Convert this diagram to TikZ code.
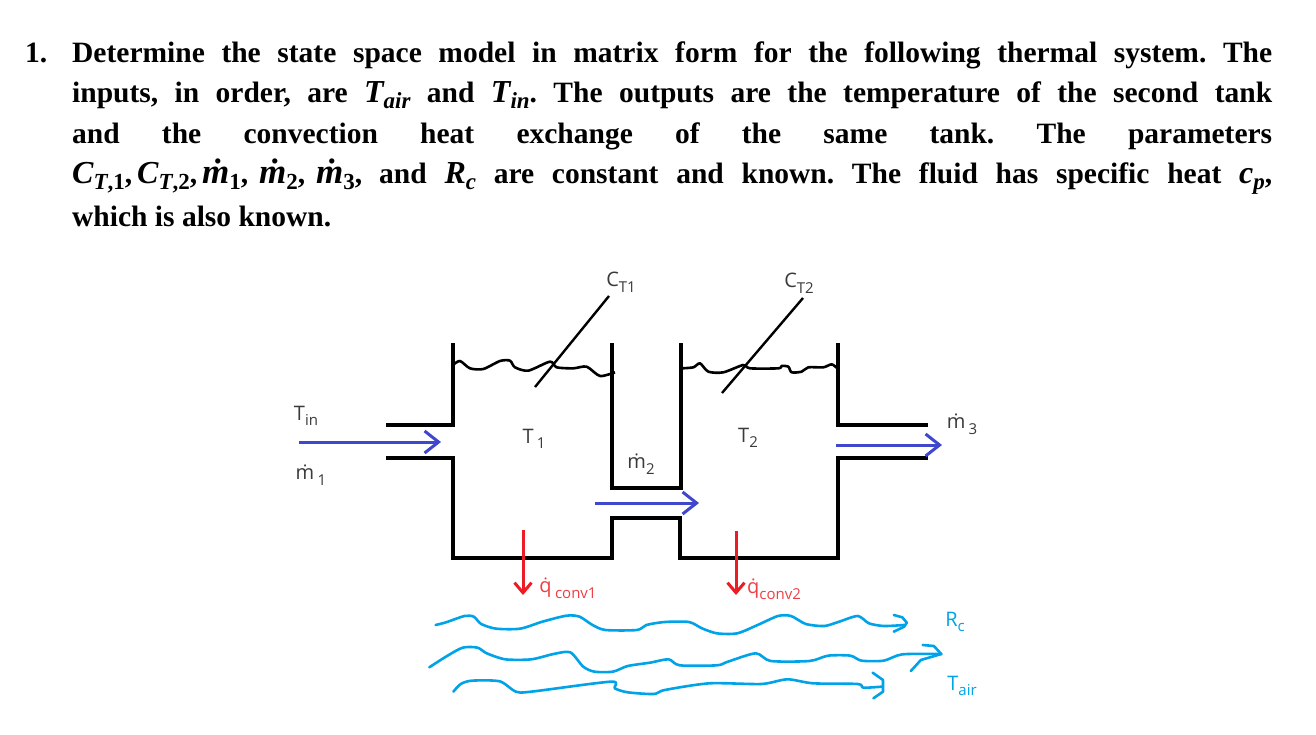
\documentclass[tikz,border=0pt]{standalone}
\usepackage{fontspec}
\setmainfont{Liberation Serif}
\newfontfamily\lab{Open Sans}
\usetikzlibrary{arrows.meta}
\definecolor{flowblue}{HTML}{3F48CC}
\definecolor{heatred}{HTML}{ED1C24}
\definecolor{aircyan}{HTML}{00A2E8}
\definecolor{labgray}{HTML}{3A3A3A}
\newcommand{\subt}[1]{\raisebox{-0.22em}{\fontsize{23}{23}\selectfont #1}}
\newcommand{\ivar}[1]{{\bfseries\itshape #1}}
\newcommand{\mvar}[1]{{\fontsize{32}{32}\selectfont\bfseries\itshape #1}}
\newcommand{\mdt}[1]{{\fontsize{35}{35}\selectfont\bfseries\itshape \.m}\subt{\bfseries\upshape #1}}
\newcommand{\dropsub}[1]{\raisebox{-0.28em}{\fontsize{15}{15}\selectfont #1}}
\newcommand{\dotted}[1]{\ooalign{#1\cr\hfil ˙\hfil\cr}}
\tikzset{
  textline/.style={anchor=base west,inner sep=0pt,font=\fontsize{29.5}{30}\selectfont\bfseries},
  lbl/.style={inner sep=0pt,font=\fontsize{20}{20}\selectfont\lab,text=labgray},
  wall/.style={line width=4pt,line cap=butt,line join=miter,black},
  thin wire/.style={line width=2.4pt,black,line cap=butt},
  water/.style={line width=2.6pt,black,line join=round,smooth,tension=.45},
  flow/.style={line width=3pt,flowblue,-{Straight Barb[length=14pt,width=22pt,line width=3pt]}},
  heat/.style={line width=3pt,heatred,-{Straight Barb[length=10pt,width=17pt,line width=3pt]}},
  air/.style={line width=2.6pt,aircyan,line join=round,line cap=round,smooth,tension=.45},
  airhead/.style={line width=2.6pt,aircyan,line join=round,line cap=round}
}
\begin{document}
\frenchspacing
\begin{tikzpicture}[x=1pt,y=-1pt]
\useasboundingbox (0,0) rectangle (1316,734);
\fill[white] (0,0) rectangle (1316,734);
% text
\node[textline] (num) at (25,62) {1.};
\node[textline] (l1) at (72,62) {\makebox[1200pt][s]{Determine the state space model in matrix form for the following thermal system. The}};
\node[textline] (l2) at (72,102) {\makebox[1200pt][s]{inputs, in order, are \mvar{T}\subt{\ivar{air}} and \mvar{T}\subt{\ivar{in}}. The outputs are the temperature of the second tank}};
\node[textline] (l3) at (72,143) {\makebox[1200pt][s]{and the convection heat exchange of the same tank. The parameters}};
\node[textline] (l4) at (72,183) {\makebox[1200pt][s]{\makebox[65pt][l]{\mvar{C}\subt{\ivar{T},\upshape 1},}\makebox[65pt][l]{\mvar{C}\subt{\ivar{T},\upshape 2},}\makebox[57pt][l]{\mdt{1},}\makebox[57pt][l]{\mdt{2},}\makebox[63pt][l]{\mdt{3},}\hspace{0pt}and \mvar{R}\subt{\ivar{c}} are constant and known. The fluid has specific heat \mvar{c}\subt{\ivar{p}},}};
\node[textline] (l5) at (72,226) {which is also known.};
% walls
\draw[wall] (386,425) -- (453,425) -- (453,343);
\draw[wall] (386,458) -- (453,458) -- (453,558) -- (612,558) -- (612,518) -- (680,518) -- (680,558) -- (838,558) -- (838,458) -- (928,458);
\draw[wall] (612,343) -- (612,488) -- (681,488) -- (681,343);
\draw[wall] (838,343) -- (838,425) -- (928,425);
% capacitance leaders
\coordinate (c1a) at (609,296); \coordinate (c1b) at (535,387);
\coordinate (c2a) at (803,298); \coordinate (c2b) at (722,393);
\draw[thin wire] (c1a) -- (c1b);
\draw[thin wire] (c2a) -- (c2b);
% water surfaces
\begin{scope}[shift={(270,260)},x=0.3333pt,y=-0.3333pt]
\draw[water] plot coordinates {(549,315)(570,303)(600,325)(640,327)(690,303)(720,302)(735,322)(775,332)(840,305)(860,322)(910,325)(950,320)(990,348)(1035,337)};
\end{scope}
\begin{scope}[shift={(600,260)},x=0.3333pt,y=-0.3333pt]
\draw[water] plot coordinates {(245,325)(280,322)(300,310)(325,335)(370,337)(430,315)(450,325)(535,325)(545,318)(565,320)(575,337)(605,335)(625,322)(670,322)(695,313)(712,325)};
\end{scope}
% flows
\coordinate (f1a) at (299,442); \coordinate (f1b) at (441,442);
\coordinate (f2a) at (595,503); \coordinate (f2b) at (699,503);
\coordinate (f3a) at (836,445); \coordinate (f3b) at (942,445);
\draw[flow] (f1a) -- (f1b);
\draw[flow] (f2a) -- (f2b);
\draw[flow] (f3a) -- (f3b);
% heat
\coordinate (h1a) at (523,530); \coordinate (h1b) at (523,595);
\coordinate (h2a) at (736,531); \coordinate (h2b) at (736,595);
\draw[heat] (h1a) -- (h1b);
\draw[heat] (h2a) -- (h2b);
% air
\begin{scope}[shift={(420,510)},x=0.371pt,y=-0.3333pt]
\draw[air] plot coordinates {(42,345)(70,337)(120,318)(145,320)(165,342)(205,356)(270,356)(330,335)(395,317)(430,320)(465,345)(500,360)(585,360)(610,345)(660,336)(725,336)(760,355)(800,370)(855,370)(910,345)(965,318)(1000,318)(1040,342)(1090,348)(1130,335)(1180,318)(1210,340)(1250,348)(1305,345)};
\draw[airhead] (1277,315) -- (1300,322) -- (1312,338) -- (1305,350) -- (1277,365);
\draw[air] plot coordinates {(25,472)(70,440)(115,413)(155,413)(180,430)(230,448)(300,448)(360,432)(405,427)(440,470)(470,485)(520,485)(560,468)(620,458)(670,448)(700,466)(800,466)(830,455)(905,430)(945,453)(1050,453)(1100,437)(1160,437)(1190,452)(1250,452)(1300,433)(1405,432)};
\draw[airhead] (1355,405) -- (1385,408) -- (1405,432) -- (1350,450) -- (1323,483);
\draw[air] plot coordinates {(90,545)(110,522)(140,512)(215,514)(258,545)(300,545)(515,515)(525,535)(560,547)(630,552)(660,540)(780,520)(920,522)(990,508)(1060,520)(1180,522)(1195,533)(1245,530)};
\draw[airhead] (1220,488) -- (1248,510) -- (1248,545) -- (1222,565);
\end{scope}
% labels
\node[lbl] (tin) at (306,416) {T\dropsub{in}};
\node[lbl] (m1) at (311,477) {\dotted{m}\,\dropsub{1}};
\node[lbl] (ct1) at (621,282) {C\dropsub{T1}};
\node[lbl] (ct2) at (799,283) {C\dropsub{T2}};
\node[lbl] (t1) at (534,439) {T\,\dropsub{1}};
\node[lbl] (t2) at (748,438) {T\dropsub{2}};
\node[lbl] (m2) at (641,466) {\dotted{m}\dropsub{2}};
\node[lbl] (m3) at (962,426) {\dotted{m}\,\dropsub{3}};
\node[lbl,text=heatred!85!white] (q1) at (568,590) {\dotted{q}\,\dropsub{conv1}};
\node[lbl,text=heatred!85!white] (q2) at (774,591) {\dotted{q}\dropsub{conv2}};
\node[lbl,text=aircyan] (rc) at (955,622) {R\dropsub{c}};
\node[lbl,text=aircyan] (tair) at (962,686) {T\dropsub{air}};
\end{tikzpicture}
\end{document}
